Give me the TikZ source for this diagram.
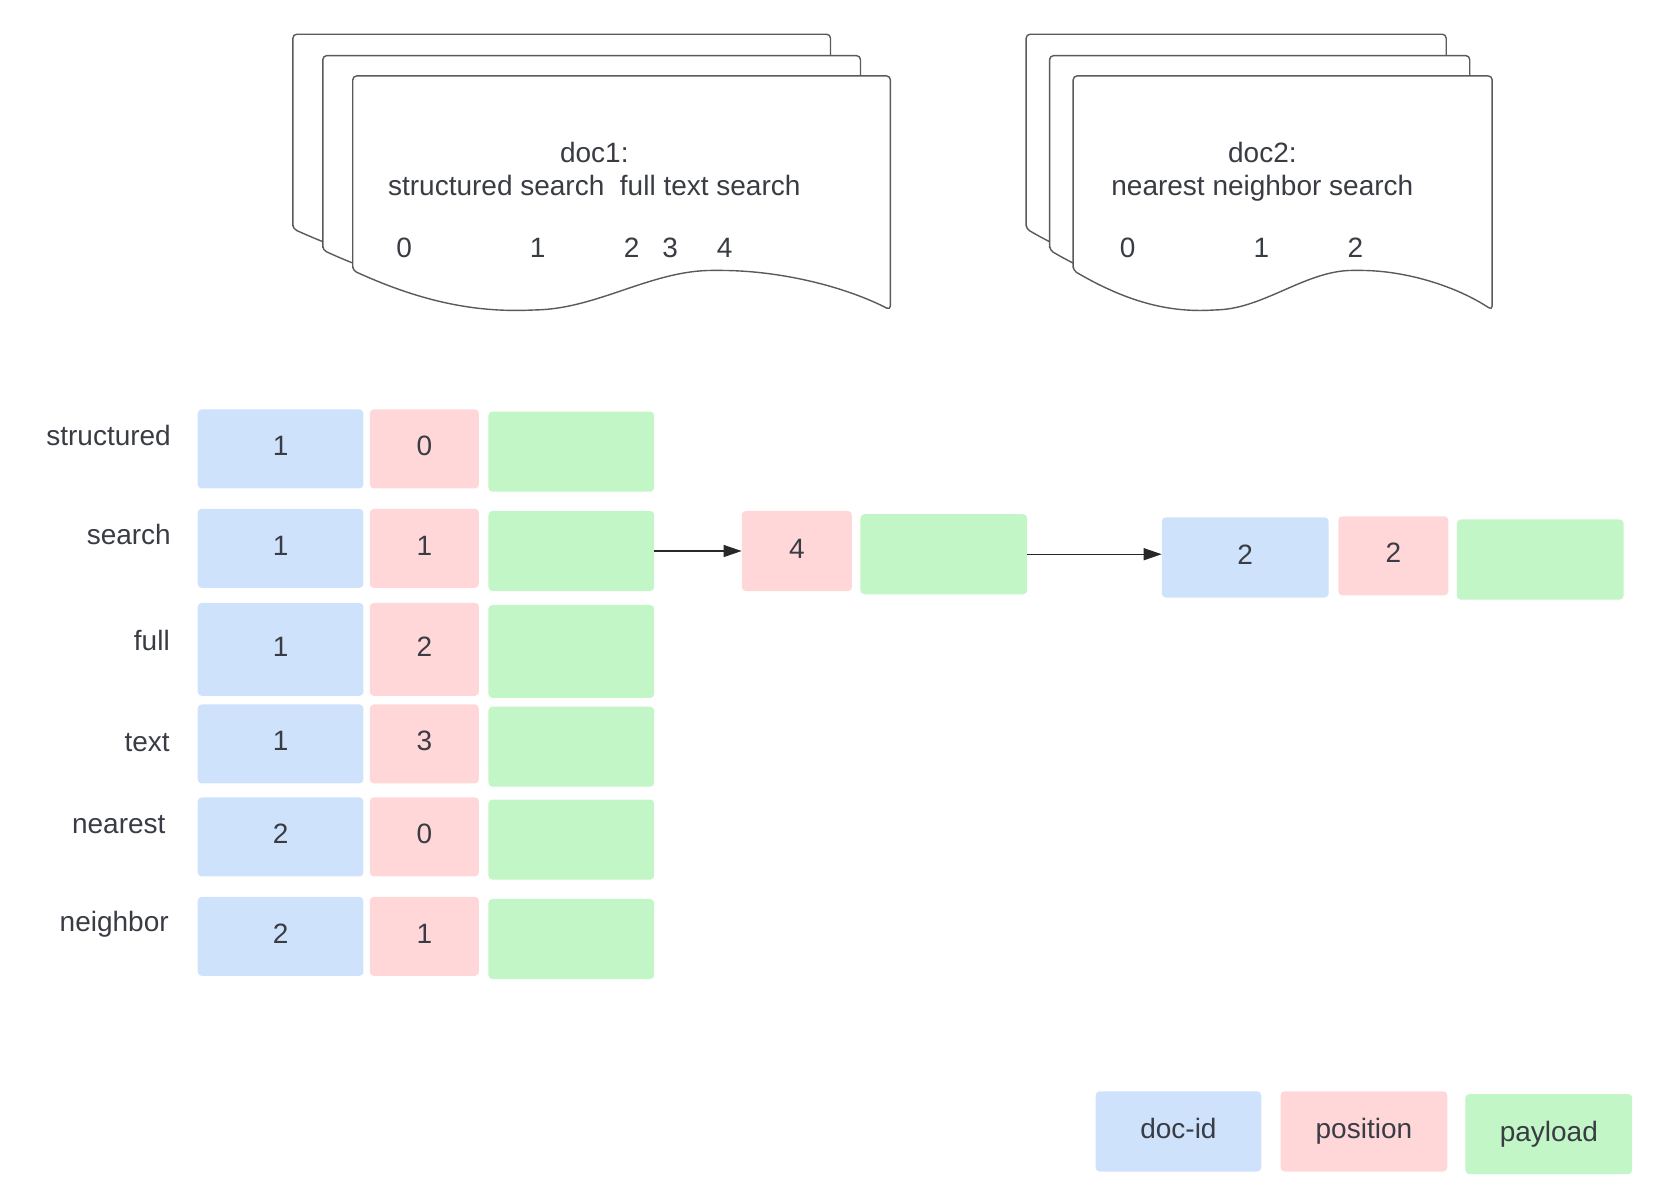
\documentclass[tikz,border=0pt]{standalone}
\usepackage{fontspec}
\setmainfont{Liberation Sans}
\usetikzlibrary{arrows.meta}
\definecolor{bluec}{RGB}{207,226,252}
\definecolor{pinkc}{RGB}{255,215,217}
\definecolor{greenc}{RGB}{194,246,198}
\definecolor{textc}{RGB}{58,60,68}
\definecolor{linec}{RGB}{90,90,90}
\definecolor{arrowc}{RGB}{40,40,40}
\newcommand\docsheet[3]{%
 \filldraw[sheet] ({#1},{#2+182}) -- ({#1},{#2}) -- ({#1+#3},{#2}) -- ({#1+#3},{#2+219})
  .. controls ({#1+0.915*#3},{#2+197}) and ({#1+0.795*#3},{#2+182}) .. ({#1+0.676*#3},{#2+182})
  .. controls ({#1+0.557*#3},{#2+182}) and ({#1+0.457*#3},{#2+217}) .. ({#1+0.338*#3},{#2+219})
  .. controls ({#1+0.239*#3},{#2+221}) and ({#1+0.139*#3},{#2+214}) .. ({#1},{#2+182}) -- cycle;}
\begin{document}
\begin{tikzpicture}[x=1.0689pt,y=-1.0689pt,
  every node/.style={font=\fontsize{28}{34}\selectfont, text=textc},
  sheet/.style={draw=linec, fill=white, line width=1.4pt, rounded corners=4pt},
  txt/.style={inner sep=0pt, text height=20pt, text depth=0pt},
  lbl/.style={txt, anchor=east},
  cell/.style 2 args={rounded corners=4pt, inner sep=0pt, text height=20pt, text depth=6pt,
     minimum width=#1*1.0689pt, minimum height=#2*1.0689pt},
  bluebox/.style={cell={155}{74}, fill=bluec},
  pinkbox/.style={cell={102}{74}, fill=pinkc},
  greenbox/.style={cell={155}{75}, fill=greenc},
  link/.style={draw=arrowc, line width=1.3pt, -{Triangle[length=18pt,width=12pt]}}
]
\useasboundingbox (0,0) rectangle (1568,1119);

% documents
\docsheet{274}{32}{503}
\docsheet{302}{52}{503}
\docsheet{330}{71}{503}
\node[txt] (d1title) at (556,143) {doc1:};
\node[txt] (d1text) at (556,174) {structured search~ full text search};
\node[txt] (d1n0) at (378,232) {0};
\node[txt] (d1n1) at (503,232) {1};
\node[txt] (d1n2) at (591,232) {2};
\node[txt] (d1n3) at (627,232) {3};
\node[txt] (d1n4) at (678,232) {4};

\docsheet{960}{32}{393}
\docsheet{982}{52}{393}
\docsheet{1004}{71}{392}
\node[txt] (d2title) at (1181,143) {doc2:};
\node[txt] (d2text) at (1181,174) {nearest neighbor search};
\node[txt] (d2n0) at (1055,232) {0};
\node[txt] (d2n1) at (1180,232) {1};
\node[txt] (d2n2) at (1268,232) {2};

% row labels
\node[lbl] (l1) at (160,407) {structured};
\node[lbl] (l2) at (160,500) {search};
\node[lbl] (l3) at (159,599) {full};
\node[lbl] (l4) at (159,694) {text};
\node[lbl] (l5) at (155,770) {nearest};
\node[lbl] (l6) at (158,862) {neighbor};

% posting rows
\node[bluebox] (b1) at (262.5,420) {1};
\node[pinkbox] (p1) at (397,420) {0};
\node[greenbox] (g1) at (534.5,422.5) {};

\node[bluebox] (b2) at (262.5,513) {1};
\node[pinkbox] (p2) at (397,513) {1};
\node[greenbox] (g2) at (534.5,515.5) {};

\node[bluebox, minimum height=87*1.0689pt] (b3) at (262.5,607.5) {1};
\node[pinkbox, minimum height=87*1.0689pt] (p3) at (397,607.5) {2};
\node[greenbox, minimum height=87*1.0689pt] (g3) at (534.5,609.5) {};

\node[bluebox] (b4) at (262.5,696) {1};
\node[pinkbox] (p4) at (397,696) {3};
\node[greenbox] (g4) at (534.5,698.5) {};

\node[bluebox] (b5) at (262.5,783) {2};
\node[pinkbox] (p5) at (397,783) {0};
\node[greenbox] (g5) at (534.5,785.5) {};

\node[bluebox] (b6) at (262.5,876) {2};
\node[pinkbox] (p6) at (397,876) {1};
\node[greenbox] (g6) at (534.5,878.5) {};

% chain for "search"
\node[pinkbox, minimum width=103*1.0689pt, minimum height=75*1.0689pt] (cp1) at (745.5,515.5) {4};
\node[greenbox, minimum width=156*1.0689pt] (cg1) at (883,518.5) {};
\node[bluebox, minimum width=156*1.0689pt, minimum height=75*1.0689pt] (cb2) at (1165,521.5) {2};
\node[pinkbox, minimum width=103*1.0689pt] (cp2) at (1303.5,520) {2};
\node[greenbox, minimum width=156*1.0689pt] (cg2) at (1441,523.5) {};

\draw[link] (g2.east) -- (g2.east -| cp1.west);
\draw[link] (cg1.east) -- (cg1.east -| cb2.west);

% legend
\node[bluebox, minimum height=75*1.0689pt] (kb) at (1102.5,1058.5) {doc-id};
\node[pinkbox, minimum width=156*1.0689pt, minimum height=75*1.0689pt] (kp) at (1276,1058.5) {position};
\node[greenbox, minimum width=156*1.0689pt] (kg) at (1449,1061) {payload};
\end{tikzpicture}
\end{document}
